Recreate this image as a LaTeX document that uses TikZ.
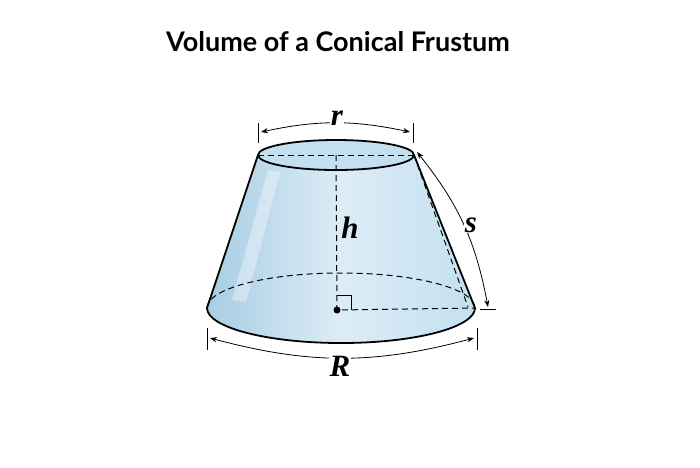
\documentclass[tikz,border=0pt]{standalone}
\usepackage{fontspec}
\setmainfont{Liberation Serif}
\newfontfamily\titlefont{Lato}
\usetikzlibrary{positioning,arrows.meta}
\definecolor{frustfill}{RGB}{196,224,240}
\definecolor{frustdark}{RGB}{168,205,228}
\tikzset{
  edge/.style={line width=1.8pt, line join=round},
  hidden/.style={line width=1pt, dash pattern=on 6pt off 4pt},
  dimarc/.style={line width=0.8pt, {Stealth[length=7pt]}-{Stealth[length=7pt]}},
  dimtick/.style={line width=0.8pt},
  dimlabel/.style={font=\itshape\bfseries\fontsize{31}{31}\selectfont, inner sep=1pt}
}
\begin{document}
\begin{tikzpicture}[x=1pt,y=-1pt]
    \useasboundingbox (0,0) rectangle (700,467);
    \node[font=\titlefont\bfseries\fontsize{27}{27}\selectfont] (title) at (338,42) {Volume of a Conical Frustum};
    % corner points
    \coordinate (tl) at (258,155);
    \coordinate (tr) at (414,155);
    \coordinate (bl) at (207,308);
    \coordinate (br) at (475,308);
    \coordinate (tc) at (336,155);
    \coordinate (bc) at (337,310);
    % body
    \shade[left color=frustdark, right color=frustfill, middle color=frustfill!60]
        (tl) -- (bl) arc (180:0:134 and 35) -- (tr) arc (0:-180:78 and 15) -- cycle;
    \fill[white, opacity=0.35] (268,170) -- (232,300) -- (246,302) -- (280,172) -- cycle;
    \fill[frustfill] (tc) ellipse (78 and 15);
    \draw[hidden] (bl) arc (180:360:134 and 35);
    \draw[hidden] (tl) -- (tr);
    \draw[hidden] (tc) -- (bc) -- (br);
    \draw[hidden] (tr) -- (468,307);
    \draw[line width=0.8pt] (bc) ++(0,-15) -- ++(14,0) -- ++(0,15);
    \fill (bc) circle (3.5);
    \draw[edge] (tl) -- (bl) arc (180:0:134 and 35) -- (tr);
    \draw[edge] (tc) ellipse (78 and 15);
    \node[dimlabel] (h) at (350,228) {h};
    % r
    \draw[dimtick] (258,123) -- (258,143);
    \draw[dimtick] (413,123) -- (413,143);
    \coordinate (r1) at (261,132);
    \coordinate (r2) at (410,132);
    \draw[dimarc] (r1) to[bend left=12] (r2);
    \node[dimlabel, fill=white] (r) at (337,118) {r};
    % R
    \draw[dimtick] (207,328) -- (207,350);
    \draw[dimtick] (477,328) -- (477,350);
    \coordinate (R1) at (210,338);
    \coordinate (R2) at (474,338);
    \draw[dimarc] (R1) to[bend right=15] (R2);
    \node[dimlabel, fill=white] (R) at (340,366) {R};
    % s
    \draw[dimtick] (480,309) -- (496,309);
    \coordinate (s1) at (417,152);
    \coordinate (s2) at (488,307);
    \draw[dimarc] (s1) to[bend left=14] (s2);
    \node[dimlabel, fill=white] (s) at (471,225) {s};
\end{tikzpicture}
\end{document}
